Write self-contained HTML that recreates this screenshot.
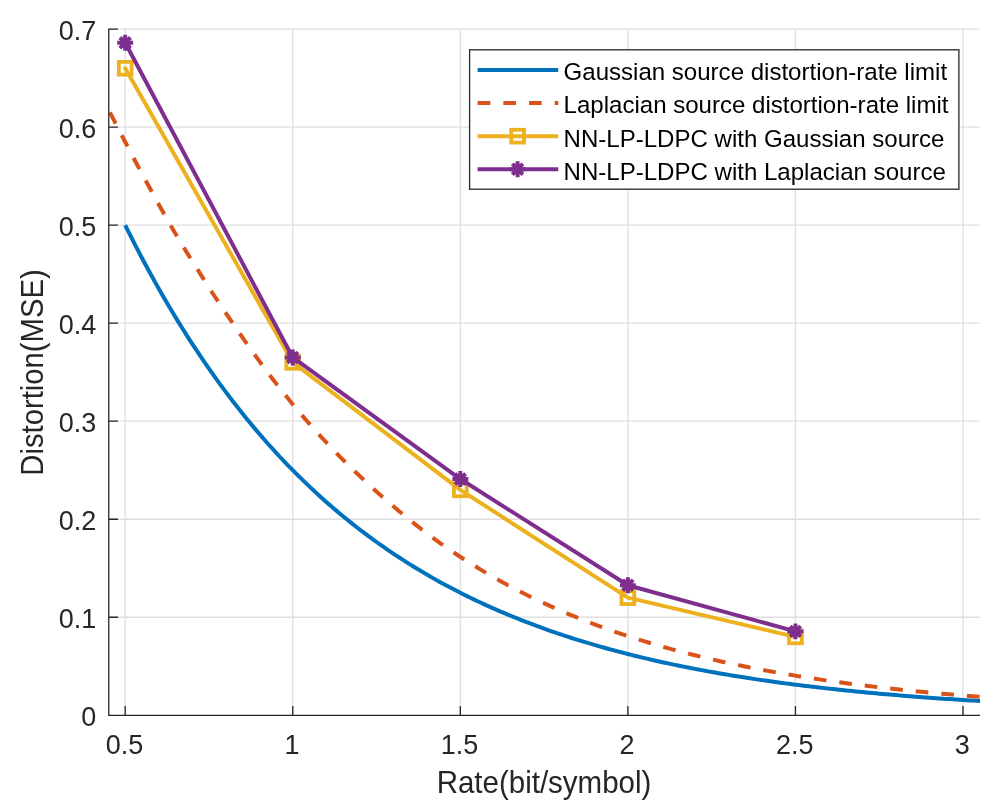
<!DOCTYPE html>
<html><head><meta charset="utf-8"><title>Distortion-rate</title>
<style>html,body{margin:0;padding:0;background:#fff}body{width:1008px;height:811px;overflow:hidden}svg{display:block}text{font-family:"Liberation Sans",sans-serif}</style></head><body>
<svg width="1008" height="811" viewBox="0 0 1008 811">
<rect width="1008" height="811" fill="#fff"/>
<defs><clipPath id="c"><rect x="108.75" y="19.05" width="871.35" height="696.25"/></clipPath></defs>
<path d="M125.20,28.55 V715.30 M292.76,28.55 V715.30 M460.32,28.55 V715.30 M627.88,28.55 V715.30 M795.44,28.55 V715.30 M963.00,28.55 V715.30 M108.75,617.26 H980.10 M108.75,519.23 H980.10 M108.75,421.19 H980.10 M108.75,323.16 H980.10 M108.75,225.12 H980.10 M108.75,127.08 H980.10 M108.75,29.05 H980.10" stroke="#dfdfdf" stroke-width="1.3" fill="none"/>
<g clip-path="url(#c)" fill="none" stroke-linejoin="round">
<path d="M125.20,225.12 L128.55,231.87 L131.90,238.52 L135.25,245.09 L138.60,251.56 L141.96,257.95 L145.31,264.24 L148.66,270.45 L152.01,276.58 L155.36,282.62 L158.71,288.57 L162.06,294.45 L165.41,300.24 L168.77,305.96 L172.12,311.59 L175.47,317.15 L178.82,322.63 L182.17,328.04 L185.52,333.37 L188.87,338.63 L192.22,343.81 L195.58,348.93 L198.93,353.97 L202.28,358.95 L205.63,363.85 L208.98,368.69 L212.33,373.46 L215.68,378.17 L219.03,382.81 L222.38,387.39 L225.74,391.90 L229.09,396.35 L232.44,400.75 L235.79,405.08 L239.14,409.35 L242.49,413.56 L245.84,417.71 L249.19,421.81 L252.55,425.85 L255.90,429.84 L259.25,433.77 L262.60,437.64 L265.95,441.46 L269.30,445.23 L272.65,448.95 L276.00,452.62 L279.36,456.24 L282.71,459.80 L286.06,463.32 L289.41,466.79 L292.76,470.21 L296.11,473.58 L299.46,476.91 L302.81,480.19 L306.16,483.43 L309.52,486.62 L312.87,489.77 L316.22,492.88 L319.57,495.94 L322.92,498.96 L326.27,501.94 L329.62,504.87 L332.97,507.77 L336.33,510.63 L339.68,513.45 L343.03,516.23 L346.38,518.97 L349.73,521.67 L353.08,524.33 L356.43,526.96 L359.78,529.56 L363.14,532.11 L366.49,534.64 L369.84,537.12 L373.19,539.58 L376.54,542.00 L379.89,544.38 L383.24,546.73 L386.59,549.05 L389.94,551.34 L393.30,553.60 L396.65,555.83 L400.00,558.02 L403.35,560.19 L406.70,562.32 L410.05,564.43 L413.40,566.51 L416.75,568.55 L420.11,570.58 L423.46,572.57 L426.81,574.53 L430.16,576.47 L433.51,578.38 L436.86,580.27 L440.21,582.13 L443.56,583.96 L446.92,585.77 L450.27,587.55 L453.62,589.31 L456.97,591.04 L460.32,592.75 L463.67,594.44 L467.02,596.11 L470.37,597.75 L473.72,599.37 L477.08,600.96 L480.43,602.54 L483.78,604.09 L487.13,605.62 L490.48,607.13 L493.83,608.62 L497.18,610.09 L500.53,611.54 L503.89,612.96 L507.24,614.37 L510.59,615.76 L513.94,617.13 L517.29,618.48 L520.64,619.82 L523.99,621.13 L527.34,622.43 L530.70,623.71 L534.05,624.97 L537.40,626.21 L540.75,627.44 L544.10,628.65 L547.45,629.84 L550.80,631.02 L554.15,632.18 L557.50,633.32 L560.86,634.45 L564.21,635.56 L567.56,636.66 L570.91,637.74 L574.26,638.81 L577.61,639.86 L580.96,640.90 L584.31,641.93 L587.67,642.94 L591.02,643.93 L594.37,644.92 L597.72,645.89 L601.07,646.84 L604.42,647.78 L607.77,648.71 L611.12,649.63 L614.48,650.53 L617.83,651.43 L621.18,652.30 L624.53,653.17 L627.88,654.03 L631.23,654.87 L634.58,655.70 L637.93,656.52 L641.28,657.33 L644.64,658.13 L647.99,658.92 L651.34,659.69 L654.69,660.46 L658.04,661.21 L661.39,661.96 L664.74,662.69 L668.09,663.42 L671.45,664.13 L674.80,664.84 L678.15,665.53 L681.50,666.22 L684.85,666.89 L688.20,667.56 L691.55,668.22 L694.90,668.86 L698.26,669.50 L701.61,670.13 L704.96,670.76 L708.31,671.37 L711.66,671.97 L715.01,672.57 L718.36,673.16 L721.71,673.74 L725.06,674.31 L728.42,674.88 L731.77,675.43 L735.12,675.98 L738.47,676.52 L741.82,677.06 L745.17,677.58 L748.52,678.10 L751.87,678.61 L755.23,679.12 L758.58,679.62 L761.93,680.11 L765.28,680.59 L768.63,681.07 L771.98,681.54 L775.33,682.01 L778.68,682.46 L782.04,682.92 L785.39,683.36 L788.74,683.80 L792.09,684.24 L795.44,684.66 L798.79,685.09 L802.14,685.50 L805.49,685.91 L808.84,686.32 L812.20,686.72 L815.55,687.11 L818.90,687.50 L822.25,687.88 L825.60,688.26 L828.95,688.63 L832.30,689.00 L835.65,689.36 L839.01,689.72 L842.36,690.07 L845.71,690.42 L849.06,690.76 L852.41,691.10 L855.76,691.43 L859.11,691.76 L862.46,692.08 L865.82,692.40 L869.17,692.72 L872.52,693.03 L875.87,693.33 L879.22,693.64 L882.57,693.94 L885.92,694.23 L889.27,694.52 L892.62,694.81 L895.98,695.09 L899.33,695.37 L902.68,695.64 L906.03,695.91 L909.38,696.18 L912.73,696.44 L916.08,696.70 L919.43,696.96 L922.79,697.21 L926.14,697.46 L929.49,697.70 L932.84,697.95 L936.19,698.19 L939.54,698.42 L942.89,698.65 L946.24,698.88 L949.60,699.11 L952.95,699.33 L956.30,699.55 L959.65,699.77 L963.00,699.98 L966.35,700.19 L969.70,700.40 L973.05,700.61 L976.40,700.81 L979.76,701.01 L983.11,701.20 L986.46,701.40 L989.81,701.59 L993.16,701.78 L996.51,701.96" stroke="#0072BD" stroke-width="4"/>
<path d="M108.95,110.43 L112.36,117.13 L115.77,123.82 L119.19,130.44 L122.60,136.99 L126.02,143.47 L129.43,150.00 L132.84,156.54 L136.26,163.02 L139.67,169.42 L143.08,175.75 L146.50,182.00 L149.91,188.27 L153.32,194.57 L156.74,200.81 L160.15,206.97 L163.57,213.06 L166.98,219.09 L170.39,225.04 L173.81,230.91 L177.22,236.64 L180.63,242.31 L184.05,247.91 L187.46,253.45 L190.88,258.92 L194.29,264.34 L197.70,269.69 L201.12,275.11 L204.53,280.55 L207.94,285.92 L211.36,291.23 L214.77,296.47 L218.19,301.65 L221.60,306.77 L225.01,311.82 L228.43,316.81 L231.84,321.86 L235.25,326.97 L238.67,332.00 L242.08,336.97 L245.50,341.88 L248.91,346.72 L252.32,351.51 L255.74,356.23 L259.15,360.90 L262.56,365.57 L265.98,370.18 L269.39,374.73 L272.80,379.21 L276.22,383.64 L279.63,388.01 L283.05,392.32 L286.46,396.58 L289.87,400.77 L293.29,404.92 L296.70,409.03 L300.11,413.08 L303.53,417.08 L306.94,421.02 L310.36,424.92 L313.77,428.76 L317.18,432.55 L320.60,436.30 L324.01,440.00 L327.42,443.66 L330.84,447.27 L334.25,450.84 L337.67,454.36 L341.08,457.83 L344.49,461.26 L347.91,464.64 L351.32,467.98 L354.73,471.27 L358.15,474.52 L361.56,477.77 L364.98,481.00 L368.39,484.20 L371.80,487.35 L375.22,490.46 L378.63,493.52 L382.04,496.55 L385.46,499.53 L388.87,502.47 L392.28,505.37 L395.70,508.29 L399.11,511.19 L402.53,514.06 L405.94,516.88 L409.35,519.66 L412.77,522.40 L416.18,525.11 L419.59,527.77 L423.01,530.40 L426.42,533.00 L429.84,535.55 L433.25,538.07 L436.66,540.56 L440.08,543.01 L443.49,545.43 L446.90,547.81 L450.32,550.16 L453.73,552.47 L457.15,554.75 L460.56,557.01 L463.97,559.23 L467.39,561.41 L470.80,563.57 L474.21,565.70 L477.63,567.80 L481.04,569.87 L484.46,571.90 L487.87,573.92 L491.28,575.90 L494.70,577.85 L498.11,579.78 L501.52,581.68 L504.94,583.55 L508.35,585.40 L511.76,587.22 L515.18,589.02 L518.59,590.79 L522.01,592.54 L525.42,594.26 L528.83,595.95 L532.25,597.63 L535.66,599.28 L539.07,600.90 L542.49,602.51 L545.90,604.09 L549.32,605.65 L552.73,607.19 L556.14,608.70 L559.56,610.20 L562.97,611.67 L566.38,613.13 L569.80,614.56 L573.21,615.97 L576.63,617.36 L580.04,618.74 L583.45,620.09 L586.87,621.43 L590.28,622.74 L593.69,624.04 L597.11,625.32 L600.52,626.58 L603.94,627.83 L607.35,629.05 L610.76,630.26 L614.18,631.45 L617.59,632.63 L621.00,633.79 L624.42,634.93 L627.83,636.06 L631.24,637.17 L634.66,638.27 L638.07,639.35 L641.49,640.41 L644.90,641.46 L648.31,642.50 L651.73,643.52 L655.14,644.52 L658.55,645.52 L661.97,646.49 L665.38,647.46 L668.80,648.41 L672.21,649.35 L675.62,650.27 L679.04,651.19 L682.45,652.08 L685.86,652.97 L689.28,653.84 L692.69,654.71 L696.11,655.56 L699.52,656.39 L702.93,657.22 L706.35,658.03 L709.76,658.84 L713.17,659.63 L716.59,660.41 L720.00,661.18 L723.41,661.94 L726.83,662.69 L730.24,663.42 L733.66,664.15 L737.07,664.87 L740.48,665.58 L743.90,666.27 L747.31,666.96 L750.72,667.64 L754.14,668.31 L757.55,668.97 L760.97,669.62 L764.38,670.26 L767.79,670.89 L771.21,671.51 L774.62,672.12 L778.03,672.73 L781.45,673.33 L784.86,673.92 L788.28,674.50 L791.69,675.07 L795.10,675.63 L798.52,676.19 L801.93,676.74 L805.34,677.28 L808.76,677.81 L812.17,678.34 L815.59,678.85 L819.00,679.37 L822.41,679.87 L825.83,680.37 L829.24,680.86 L832.65,681.34 L836.07,681.82 L839.48,682.28 L842.89,682.75 L846.31,683.20 L849.72,683.65 L853.14,684.10 L856.55,684.54 L859.96,684.97 L863.38,685.39 L866.79,685.81 L870.20,686.23 L873.62,686.63 L877.03,687.03 L880.45,687.43 L883.86,687.82 L887.27,688.21 L890.69,688.59 L894.10,688.96 L897.51,689.33 L900.93,689.70 L904.34,690.05 L907.76,690.41 L911.17,690.76 L914.58,691.10 L918.00,691.44 L921.41,691.78 L924.82,692.11 L928.24,692.43 L931.65,692.75 L935.07,693.07 L938.48,693.38 L941.89,693.69 L945.31,693.99 L948.72,694.29 L952.13,694.58 L955.55,694.87 L958.96,695.16 L962.37,695.44 L965.79,695.72 L969.20,696.00 L972.62,696.27 L976.03,696.53 L979.44,696.80 L982.86,697.06 L986.27,697.31 L989.68,697.56 L993.10,697.81 L996.51,698.06" stroke="#D95319" stroke-width="4" stroke-dasharray="12.67 12.99" stroke-dashoffset="-2.2"/>
<rect x="118.80" y="61.86" width="12.80" height="12.80" fill="none" stroke="#EDB120" stroke-width="3.8" stroke-linejoin="miter"/>
<rect x="286.36" y="355.97" width="12.80" height="12.80" fill="none" stroke="#EDB120" stroke-width="3.8" stroke-linejoin="miter"/>
<rect x="453.92" y="483.42" width="12.80" height="12.80" fill="none" stroke="#EDB120" stroke-width="3.8" stroke-linejoin="miter"/>
<rect x="621.48" y="591.26" width="12.80" height="12.80" fill="none" stroke="#EDB120" stroke-width="3.8" stroke-linejoin="miter"/>
<rect x="789.04" y="630.47" width="12.80" height="12.80" fill="none" stroke="#EDB120" stroke-width="3.8" stroke-linejoin="miter"/>
<path d="M125.20,68.26 L292.76,362.37 L460.32,489.82 L627.88,597.66 L795.44,636.87" stroke="#EDB120" stroke-width="4" stroke-linecap="round"/>
<path d="M125.20,42.77 L292.76,357.47 L460.32,479.03 L627.88,585.21 L795.44,631.38" stroke="#7E2F8E" stroke-width="4" stroke-linecap="round"/>
<path d="M117.25,42.77 H133.15 M125.20,34.82 V50.72 M119.90,37.47 L130.50,48.07 M119.90,48.07 L130.50,37.47" fill="none" stroke="#7E2F8E" stroke-width="4"/>
<path d="M284.81,357.47 H300.71 M292.76,349.52 V365.42 M287.46,352.17 L298.06,362.77 M287.46,362.77 L298.06,352.17" fill="none" stroke="#7E2F8E" stroke-width="4"/>
<path d="M452.37,479.03 H468.27 M460.32,471.08 V486.98 M455.02,473.73 L465.62,484.33 M455.02,484.33 L465.62,473.73" fill="none" stroke="#7E2F8E" stroke-width="4"/>
<path d="M619.93,585.21 H635.83 M627.88,577.26 V593.16 M622.58,579.91 L633.18,590.51 M622.58,590.51 L633.18,579.91" fill="none" stroke="#7E2F8E" stroke-width="4"/>
<path d="M787.49,631.38 H803.39 M795.44,623.43 V639.33 M790.14,626.08 L800.74,636.68 M790.14,636.68 L800.74,626.08" fill="none" stroke="#7E2F8E" stroke-width="4"/>
</g>
<path d="M108.75,28.55 V715.30 H980.10 M125.20,715.30 V706.10 M292.76,715.30 V706.10 M460.32,715.30 V706.10 M627.88,715.30 V706.10 M795.44,715.30 V706.10 M963.00,715.30 V706.10 M108.75,715.30 H117.95 M108.75,617.26 H117.95 M108.75,519.23 H117.95 M108.75,421.19 H117.95 M108.75,323.16 H117.95 M108.75,225.12 H117.95 M108.75,127.08 H117.95 M108.75,29.05 H117.95" stroke="#262626" stroke-width="1.3" fill="none"/>
<g font-size="27" fill="#262626">
<text transform="translate(124.40,753.5) scale(1,1.040)" text-anchor="middle">0.5</text>
<text transform="translate(291.96,753.5) scale(1,1.040)" text-anchor="middle">1</text>
<text transform="translate(459.52,753.5) scale(1,1.040)" text-anchor="middle">1.5</text>
<text transform="translate(627.08,753.5) scale(1,1.040)" text-anchor="middle">2</text>
<text transform="translate(794.64,753.5) scale(1,1.040)" text-anchor="middle">2.5</text>
<text transform="translate(962.20,753.5) scale(1,1.040)" text-anchor="middle">3</text>
<text transform="translate(96.2,725.90) scale(1,1.040)" text-anchor="end">0</text>
<text transform="translate(96.2,627.86) scale(1,1.040)" text-anchor="end">0.1</text>
<text transform="translate(96.2,529.83) scale(1,1.040)" text-anchor="end">0.2</text>
<text transform="translate(96.2,431.79) scale(1,1.040)" text-anchor="end">0.3</text>
<text transform="translate(96.2,333.76) scale(1,1.040)" text-anchor="end">0.4</text>
<text transform="translate(96.2,235.72) scale(1,1.040)" text-anchor="end">0.5</text>
<text transform="translate(96.2,137.68) scale(1,1.040)" text-anchor="end">0.6</text>
<text transform="translate(96.2,39.65) scale(1,1.040)" text-anchor="end">0.7</text>
</g>
<g fill="#262626">
<text font-size="29.5" transform="translate(544.0,792.7) scale(1,1.040)" text-anchor="middle">Rate(bit/symbol)</text>
<text font-size="29.25" transform="translate(43.0,372.5) rotate(-90) scale(1,1.040)" text-anchor="middle">Distortion(MSE)</text>
</g>
<rect x="469.6" y="49.8" width="489.3" height="139.4" fill="#fff" stroke="#262626" stroke-width="1.3"/>
<g fill="none" stroke-width="4">
<path d="M477.6,70.1 H558.2" stroke="#0072BD"/>
<path d="M477.6,103.1 H558.2" stroke="#D95319" stroke-dasharray="12.7 13"/>
<path d="M477.6,136.2 H558.2" stroke="#EDB120"/>
<rect x="511.20" y="129.80" width="12.80" height="12.80" fill="none" stroke="#EDB120" stroke-width="3.8" stroke-linejoin="miter"/>
<path d="M477.6,169.2 H558.2" stroke="#7E2F8E"/>
<path d="M509.65,169.20 H525.55 M517.60,161.25 V177.15 M512.30,163.90 L522.90,174.50 M512.30,174.50 L522.90,163.90" fill="none" stroke="#7E2F8E" stroke-width="4"/>
</g>
<g font-size="24.05" fill="#000">
<text transform="translate(563.6,80.40) scale(1,1.030)">Gaussian source distortion-rate limit</text>
<text transform="translate(563.6,113.40) scale(1,1.030)">Laplacian source distortion-rate limit</text>
<text transform="translate(563.6,146.50) scale(1,1.030)">NN-LP-LDPC with Gaussian source</text>
<text transform="translate(563.6,179.50) scale(1,1.030)">NN-LP-LDPC with Laplacian source</text>
</g>
</svg></body></html>
